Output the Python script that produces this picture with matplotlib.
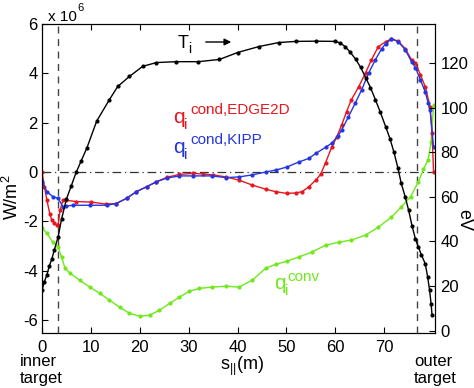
import matplotlib
matplotlib.use("Agg")
import matplotlib.pyplot as plt

plt.rcParams['font.family'] = ['Liberation Sans', 'DejaVu Sans']
plt.rcParams['mathtext.fontset'] = 'custom'
plt.rcParams['mathtext.rm'] = 'Liberation Sans'
plt.rcParams['mathtext.it'] = 'Liberation Sans'
plt.rcParams['axes.unicode_minus'] = False

# ---- data ----
s_T = [0, 0.5, 1, 1.5, 2, 2.5, 3.3, 4, 5, 6, 7, 8, 9.2, 11.2, 13.8, 15.5, 17.9, 20.6,
       23.4, 27.5, 32, 36.3, 40, 44.4, 48.5, 52, 56, 60, 61, 62, 63, 64.2, 65.2, 66.2,
       67.2, 68.2, 69.2, 70.3, 71.2, 72, 72.8, 73.5, 74.3, 75, 75.7, 76.4, 77, 77.6,
       78.4, 78.9, 79.3, 79.6, 79.8]
T_i = [18, 22, 25, 29, 32, 36, 42, 50, 59, 65, 71, 76, 82, 94, 103.6, 109.5, 114, 118.5,
       120.2, 120.6, 120.6, 121.6, 124.7, 127.4, 129.2, 129.7, 129.8, 129.7, 129, 127.4,
       125, 121.6, 118, 113.5, 109, 103.6, 98, 91.5, 86, 80, 73, 66, 60, 54, 47, 41,
       37.5, 34, 30, 24, 18, 12, 7]

s_edge = [0, 0.5, 1, 1.6, 2, 2.5, 3, 3.3, 3.7, 4.3, 5, 7, 10, 13, 15.2, 17.3, 19.3, 21.4,
          23.4, 25.5, 28.1, 30.8, 33, 35, 37.6, 40.3, 43, 45.8, 47.8, 50.1, 51.9, 53.2,
          54.6, 56, 57, 58, 59.3, 60.3, 61.3, 62.3, 63.3, 64.8, 66.2, 67.4, 68.8, 70.3,
          71.5, 72.9, 74.3, 75.6, 76.4, 77.4, 78.4, 79.4, 79.8, 80.1]
q_edge = [0, -0.6, -1.14, -1.7, -1.95, -2.05, -2.15, -2.15, -1.55, -1.14, -1.15, -1.2,
          -1.22, -1.3, -1.28, -1.07, -0.8, -0.6, -0.4, -0.22, -0.1, -0.06, -0.08, -0.12,
          -0.2, -0.33, -0.53, -0.7, -0.8, -0.87, -0.85, -0.8, -0.6, -0.33, -0.1, 0.37,
          1.02, 1.42, 1.9, 2.44, 2.93, 3.46, 4.02, 4.55, 5.08, 5.28, 5.4, 5.3, 5.0, 4.55,
          4.43, 3.95, 3.46, 2.64, 1.6, 0.0]

s_kipp = [0, 1, 2.2, 3.3, 4.3, 5, 6.4, 9.8, 13.2, 15.2, 17.3, 19.3, 21.4, 23.4, 25.5,
          28.1, 30.8, 34.8, 37.6, 40.3, 43, 45.8, 47.9, 50.1, 52.5, 54.6, 56, 58, 59.3,
          60.5, 61.3, 62.7, 64.1, 65.4, 66.8, 68.2, 69.5, 70.3, 71.5, 72.9, 74.3, 75.6,
          76.4, 77.4, 78.4, 79, 79.4, 80.1]
q_kipp = [-0.4, -0.8, -1.0, -1.07, -1.42, -1.38, -1.35, -1.35, -1.35, -1.28, -1.07,
          -0.8, -0.6, -0.4, -0.25, -0.16, -0.16, -0.16, -0.23, -0.2, -0.12, 0, 0.08, 0.2,
          0.4, 0.55, 0.75, 1.0, 1.17, 1.45, 1.7, 2.24, 2.8, 3.33, 4.0, 4.55, 5.0, 5.2,
          5.4, 5.28, 4.96, 4.47, 4.23, 3.74, 3.25, 2.8, 2.5, 1.0]

s_conv = [0, 1, 2.2, 3.3, 4, 4.7, 5.7, 7.7, 9.8, 11.8, 13.8, 15.9, 17.9, 20, 22, 24,
          26.1, 28.1, 30.1, 32.2, 34.8, 37.7, 40.3, 43, 45.8, 47.9, 50.1, 52.5, 55.2,
          58, 60.7, 63.3, 66.2, 68.8, 71.5, 73.5, 75.4, 77, 78, 79, 79.6, 80.1]
q_conv = [-2.28, -2.48, -2.85, -3.05, -3.45, -3.9, -4.1, -4.39, -4.67, -4.92, -5.2,
          -5.49, -5.73, -5.85, -5.81, -5.61, -5.33, -5.08, -4.84, -4.72, -4.67, -4.63,
          -4.67, -4.39, -3.9, -3.74, -3.62, -3.45, -3.25, -2.97, -2.85, -2.76, -2.56,
          -2.24, -1.83, -1.42, -1.0, -0.4, 0.1, 0.5, 1.2, 2.7]

targets = [3.27, 76.7]
x_ticks = [0, 10, 20, 30, 40, 50, 60, 70]
yl_ticks = [-6, -4, -2, 0, 2, 4, 6]
yr_ticks = [0, 20, 40, 60, 80, 100, 120]

RED = '#e8161f'
BLUE = '#2436e0'
GREEN = '#6fe81c'

W, H = 474, 388
fig = plt.figure(figsize=(W / 100, H / 100), dpi=100)
L, R, T, B = 42, 435, 24, 333
ax = fig.add_axes([L / W, 1 - B / H, (R - L) / W, (B - T) / H])
ax2 = ax.twinx()

ax.set_xlim(0, 80.4)
ax.set_ylim(-6.53, 6)
ax2.set_ylim(-1.1, 137.5)

ax.axhline(0, color='#333333', lw=0.9, ls=(0, (7, 3, 1, 3)))
for t in targets:
    ax.axvline(t, color='#444444', lw=1.0, ls=(0, (5, 4)))

mk = dict(marker='o', markersize=2.0, lw=1.0)
ax.plot(s_conv, q_conv, color=GREEN, **mk)
ax.plot(s_edge, q_edge, color=RED, **mk)
ax.plot(s_kipp, q_kipp, color=BLUE, **mk)
ax2.plot(s_T, T_i, color='black', **mk)

ax.set_xticks(x_ticks)
ax.set_yticks(yl_ticks)
ax2.set_yticks(yr_ticks)
ax.tick_params(direction='in', labelsize=12, length=4, top=True, pad=3)
ax.tick_params(axis='x', pad=5)
ax2.tick_params(direction='in', labelsize=12, length=4, pad=4)
ax.set_xticklabels([str(v) for v in x_ticks])
ax.set_yticklabels([str(v) for v in yl_ticks])

def px(x, y):
    return x / W, 1 - y / H

def qlabel(x, yb, sup, color, dsup=(17, -9), dsub=(11, 6)):
    fig.text(*px(x, yb), 'q', color=color, fontsize=15, va='baseline', ha='left')
    fig.text(*px(x + dsup[0], yb + dsup[1]), sup, color=color, fontsize=11,
             va='baseline', ha='left')
    fig.text(*px(x + dsub[0], yb + dsub[1]), 'i', color=color, fontsize=11,
             va='baseline', ha='left')

qlabel(173, 123, 'cond,EDGE2D', RED)
qlabel(173, 153, 'cond,KIPP', BLUE)
qlabel(274, 289, 'conv', GREEN, dsup=(13, -8))

fig.text(*px(178, 48), 'T', fontsize=13, va='baseline', ha='left')
fig.text(*px(188, 53), 'i', fontsize=10, va='baseline', ha='left')
fig.add_artist(matplotlib.patches.FancyArrowPatch(
    px(203, 42), px(234, 42), transform=fig.transFigure,
    arrowstyle='-|>', mutation_scale=10, lw=1.0, color='black'))

fig.text(*px(48, 21), 'x 10', fontsize=11, va='baseline', ha='left')
fig.text(*px(77, 11), '6', fontsize=8, va='baseline', ha='left')

fig.text(*px(12, 197), 'W/m$^2$', fontsize=13, rotation=90, va='center', ha='center')
fig.text(*px(464, 220), 'eV', fontsize=13, rotation=-90, va='center', ha='center')
fig.text(*px(242, 366), 's$_{||}$(m)', fontsize=13, va='center', ha='center')
fig.text(*px(20, 366), 'inner', fontsize=12, va='baseline', ha='left')
fig.text(*px(20, 383), 'target', fontsize=12, va='baseline', ha='left')
fig.text(*px(414, 366), 'outer', fontsize=12, va='baseline', ha='left')
fig.text(*px(414, 383), 'target', fontsize=12, va='baseline', ha='left')

fig.savefig('out.png', dpi=100)
